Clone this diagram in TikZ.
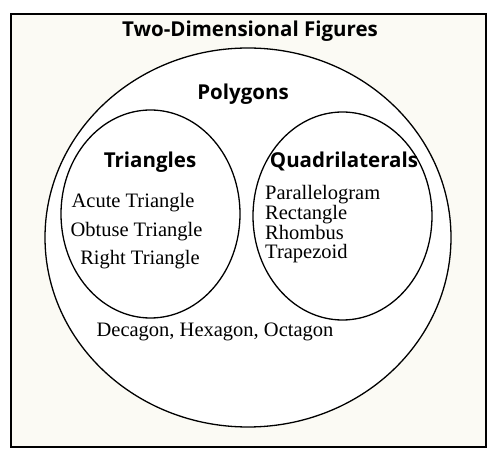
\documentclass[tikz,border=0pt]{standalone}
\usepackage{fontspec}
\setmainfont{Liberation Serif}
\setsansfont{Open Sans}
\usetikzlibrary{shapes.geometric}
\definecolor{paper}{RGB}{251,250,244}
\begin{document}
\begin{tikzpicture}[x=1pt,y=1pt,
  set/.style={draw=black, line width=1.3pt, ellipse, inner sep=0pt, fill=white},
  head/.style={font=\sffamily\bfseries\fontsize{20.5}{24}\selectfont, anchor=base, inner sep=0pt},
  item/.style={font=\fontsize{20.5}{24}\selectfont, anchor=base, inner sep=0pt},
  itemL/.style={item, anchor=base west}]
\useasboundingbox (0,0) rectangle (496,458);
\draw[line width=1.4pt, fill=paper] (11,11) rectangle (486,444);
\node[set, minimum width=406pt, minimum height=379pt] (poly) at (248,220.5) {};
\node[set, minimum width=179pt, minimum height=208pt] (tri) at (150.5,244) {};
\node[set, minimum width=179pt, minimum height=208pt] (quad) at (342.5,242) {};
\node[head] (title) at (250,421) {Two-Dimensional Figures};
\node[head] (polyl) at (243,358) {Polygons};
\node[head] (tril) at (150,290) {Triangles};
\node[head] (quadl) at (344,290) {Quadrilaterals};
\node[item] (acute) at (133,250) {Acute Triangle};
\node[item] (obtuse) at (136.5,221) {Obtuse Triangle};
\node[item] (right) at (140,193) {Right Triangle};
\node[itemL] (para) at (265,258) {Parallelogram};
\node[itemL] (rect) at (265,238) {Rectangle};
\node[itemL] (rhom) at (265,218) {Rhombus};
\node[itemL] (trap) at (265,199) {Trapezoid};
\node[item] (others) at (215,121) {Decagon, Hexagon, Octagon};
\end{tikzpicture}
\end{document}
